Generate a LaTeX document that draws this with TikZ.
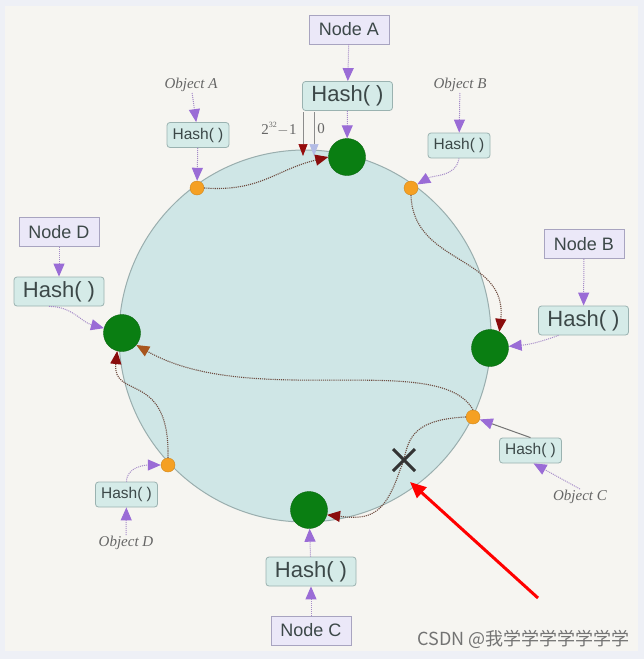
\documentclass[tikz,border=0pt]{standalone}
\usepackage{fontspec}
\setmainfont{Liberation Sans}
\newfontfamily\objfont{Liberation Serif}
\newfontfamily\cjkfont{Noto Sans CJK SC}
\usetikzlibrary{arrows.meta}
\definecolor{outerbg}{HTML}{EEF0F6}
\definecolor{innerbg}{HTML}{F6F5F1}
\definecolor{ringfill}{HTML}{CFE6E6}
\definecolor{ringdraw}{HTML}{9AAEAE}
\definecolor{gnfill}{HTML}{0A7E12}
\definecolor{odfill}{HTML}{F5A023}
\definecolor{hashfill}{HTML}{D5EBE8}
\definecolor{hashdraw}{HTML}{9AB2B0}
\definecolor{nodefill}{HTML}{EBE8F8}
\definecolor{nodedraw}{HTML}{A8A4C0}
\definecolor{purp}{HTML}{9A6CD6}
\definecolor{purpline}{HTML}{A58AC8}
\definecolor{brownline}{HTML}{6E4C40}
\definecolor{darkred}{HTML}{8A0C0C}
\definecolor{browntip}{HTML}{A8561E}
\definecolor{txt}{HTML}{3C4848}
\tikzset{
  x=1pt,y=-1pt,
  gnode/.style={circle,fill=gnfill,draw=gnfill!80!black,line width=0.4pt,minimum size=37pt,inner sep=0pt},
  odot/.style={circle,fill=odfill,draw=odfill!85!black,line width=0.4pt,minimum size=14pt,inner sep=0pt},
  hashbig/.style={rectangle,rounded corners=3pt,fill=hashfill,draw=hashdraw,line width=0.8pt,text=txt,font=\fontsize{22}{24}\selectfont,minimum width=90pt,minimum height=29pt,inner sep=0pt},
  hashsmall/.style={rectangle,rounded corners=3pt,fill=hashfill,draw=hashdraw,line width=0.8pt,text=txt,font=\fontsize{15.5}{17}\selectfont,minimum width=62pt,minimum height=25pt,inner sep=0pt},
  nodebox/.style={rectangle,fill=nodefill,draw=nodedraw,line width=0.8pt,text=txt,font=\fontsize{18}{20}\selectfont,minimum width=80pt,minimum height=29pt,inner sep=0pt},
  objlabel/.style={text=black!60,font=\objfont\itshape\fontsize{15}{17}\selectfont,inner sep=1pt},
  parrow/.style={purpline,densely dotted,line width=1pt,-{Triangle[length=13pt,width=11pt,color=purp]},shorten >=0pt},
  barrow/.style={brownline,densely dotted,line width=1.1pt,-{Triangle[length=13pt,width=11pt,color=darkred]}},
}
\begin{document}
\begin{tikzpicture}
% background
\fill[outerbg] (0,0) rectangle (644,659);
\fill[innerbg] (5,6) rectangle (638,651);
\useasboundingbox (0,0) rectangle (644,659);

% ring
\draw[fill=ringfill,draw=ringdraw,line width=1pt] (305,336) circle[radius=186];

% green nodes
\node[gnode] (gA) at (347,157) {};
\node[gnode] (gB) at (490,348) {};
\node[gnode] (gC) at (309,510) {};
\node[gnode] (gD) at (122,333) {};

% orange object dots
\node[odot] (oA) at (197,188) {};
\node[odot] (oB) at (411,188) {};
\node[odot] (oC) at (473,417) {};
\node[odot] (oD) at (168,465) {};

% node boxes
\node[nodebox] (nA) at (349,29.5) {Node A};
\node[nodebox] (nB) at (584,244) {Node B};
\node[nodebox] (nC) at (311,630.5) {Node C};
\node[nodebox] (nD) at (59,232) {Node D};

% big hash boxes
\node[hashbig] (hA) at (347.5,96) {Hash( )};
\node[hashbig] (hB) at (583.5,320.5) {Hash( )};
\node[hashbig] (hC) at (311,571.5) {Hash( )};
\node[hashbig] (hD) at (59,291.5) {Hash( )};

% small hash boxes
\node[hashsmall] (sA) at (198,135) {Hash( )};
\node[hashsmall] (sB) at (459,145.5) {Hash( )};
\node[hashsmall] (sC) at (530.5,450.5) {Hash( )};
\node[hashsmall] (sD) at (126.5,494.5) {Hash( )};

% object labels
\node[objlabel] (lA) at (191,85) {Object A};
\node[objlabel] (lB) at (460,85) {Object B};
\node[objlabel] (lC) at (580,497) {Object C};
\node[objlabel] (lD) at (126,543) {Object D};

% 2^32-1 / 0 marks
\node[text=black!60,font=\objfont\fontsize{15}{17}\selectfont,inner sep=0pt] (tmax) at (279,129) {2\raisebox{0.9ex}{\fontsize{8}{9}\selectfont 32}\kern0.5pt$-$\kern0.5pt1};
\node[text=black!60,font=\objfont\fontsize{15}{17}\selectfont,inner sep=0pt] (tzero) at (321,129) {0};
\coordinate (mA1) at (303,112);
\coordinate (mA2) at (303,156);
\coordinate (mB1) at (314,112);
\coordinate (mB2) at (314,156);
\draw[black!45,line width=0.7pt,-{Triangle[length=12pt,width=9pt,color=darkred!90!red]}] (mA1) -- (mA2);
\draw[black!45,line width=0.7pt,-{Triangle[length=12pt,width=9pt,color=cyan!35!blue!30!white]}] (mB1) -- (mB2);

% purple hash connectors
\draw[parrow] (nA) -- (hA);
\draw[parrow] (hA) -- (gA);
\draw[parrow] (lA) -- (sA);
\draw[parrow] (sA) -- (oA);
\draw[parrow] (lB) -- (sB);
\draw[parrow] (sB.south) to[out=-100,in=30] (oB);
\draw[parrow] (nB) -- (hB);
\draw[parrow] ([xshift=-25pt]hB.south) to[out=-160,in=5] (gB);
\draw[parrow] (nD) -- (hD);
\draw[parrow] ([xshift=-10pt]hD.south) to[out=0,in=165] (gD);
\draw[parrow] (lC.north) -- ([xshift=3pt]sC.south);
\draw[black!55,line width=1pt,-{Triangle[length=13pt,width=11pt,color=purp]}] (sC.north) -- (oC);
\draw[parrow] (lD) -- (sD);
\draw[parrow] (sD.north) to[out=90,in=180] (oD);
\draw[parrow] (nC) -- (hC);
\draw[parrow] (hC) -- (gC);

% brown dotted routing curves
\draw[barrow] (oA.east) .. controls (260,192) and (275,170) .. (gA.west);
\draw[barrow] (oB.south) .. controls (413,265) and (508,255) .. (gB.60);
\draw[barrow,-{Triangle[length=13pt,width=11pt,color=browntip]}] (oC.north) .. controls (440,350) and (250,410) .. (gD.-40);
\draw[barrow] (oC.west) .. controls (400,420) and (410,450) .. (400,470) .. controls (385,515) and (370,520) .. (gC.-15);
\draw[barrow] (oD.north) .. controls (170,370) and (112,400) .. (gD.-105);

% X mark
\coordinate (xc) at (404,460);
\draw[black!80,line width=3pt] ([shift={(-11,-11)}]xc) -- ([shift={(11,11)}]xc);
\draw[black!80,line width=3pt] ([shift={(-11,11)}]xc) -- ([shift={(11,-11)}]xc);

% red pointer arrow
\coordinate (rs) at (538,598);
\coordinate (re) at (410,482);
\draw[red,line width=3pt,-{Triangle[length=16pt,width=14pt]}] (rs) -- (re);

% watermark
\node[text=black!55,font=\cjkfont\fontsize{18}{20}\selectfont,anchor=east,inner sep=0pt] (wm) at (630,639) {CSDN @我学学学学学学学};
\end{tikzpicture}
\end{document}
